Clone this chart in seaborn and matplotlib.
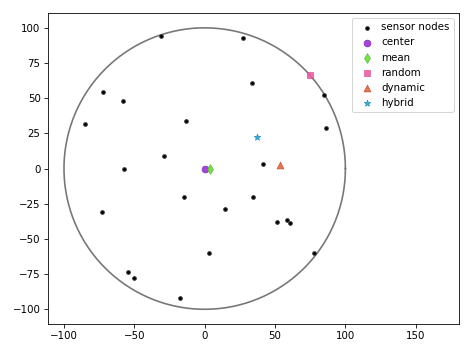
import numpy as np
import matplotlib
matplotlib.use('Agg')
import matplotlib.pyplot as plt
import seaborn as sns

# posiciones de los nodos sensores
node_x = [-31.2, 27.2, 33.5, -72.6, -57.7, -85.0, -13.5, -28.8, -57.3, 85.0, 86.0, 41.3,
          -15.0, 34.2, -72.8, 14.5, 3.2, -54.2, -50.2, -17.5, 51.7, 58.2, 60.6, 77.5]
node_y = [94.3, 93.1, 60.8, 54.1, 48.2, 31.4, 34.0, 9.2, -0.5, 52.0, 29.0, 3.3,
          -20.3, -20.3, -31.0, -28.6, -59.8, -73.8, -77.8, -91.7, -38.0, -36.4, -38.5, -59.8]

# posiciones de la estación base según cada estrategia
strategies = ['center', 'mean', 'random', 'dynamic', 'hybrid']
strat_x = [0.0, 3.8, 74.7, 53.8, 36.9]
strat_y = [0.0, -0.2, 66.2, 2.5, 22.7]

radius = 100

markers = {'center': 'o', 'mean': 'd', 'random': 's', 'dynamic': '^', 'hybrid': '*'}
colors = {'center': '#9b30d9', 'mean': '#66e032', 'random': '#f05aa5',
          'dynamic': '#e8643c', 'hybrid': '#22a6dc'}
edges = {'center': '#7a20b0', 'mean': '#48b020', 'random': '#d04088',
         'dynamic': '#b84828', 'hybrid': '#1080b0'}

fig = plt.figure(figsize=(474 / 74, 353 / 74), dpi=74)
ax = fig.add_axes([0.0985, 0.082, 0.8715, 0.881])

# círculo del área de despliegue
theta = np.linspace(0, 2 * np.pi, 400)
ax.plot(radius * np.cos(theta), radius * np.sin(theta), color='#777777', lw=1.6, zorder=1)

sns.scatterplot(x=node_x, y=node_y, color='black', edgecolor='#444444', s=14,
                linewidth=0.8, label='sensor nodes', ax=ax, zorder=3)

for name, xx, yy in zip(strategies, strat_x, strat_y):
    sns.scatterplot(x=[xx], y=[yy], marker=markers[name], color=colors[name],
                    edgecolor=edges[name], s=45, linewidth=0.6,
                    alpha=0.9, label=name, ax=ax, zorder=4)

ax.set_xlim(-111.5, 180.5)
ax.set_ylim(-110.5, 110.5)
ax.set_aspect('equal', adjustable='box')
ax.set_xticks([-100, -50, 0, 50, 100, 150])
ax.set_yticks([-100, -75, -50, -25, 0, 25, 50, 75, 100])
ax.tick_params(labelsize=10)

ax.legend(loc='upper right', fontsize=10, framealpha=0.8, handletextpad=0.4)

fig.savefig('out.png', dpi=74)
plt.close(fig)
